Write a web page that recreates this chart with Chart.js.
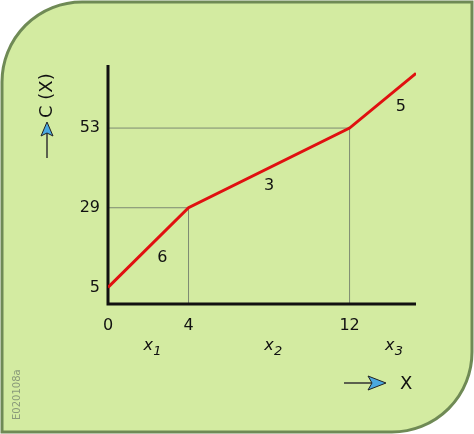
<!DOCTYPE html>
<html><head><meta charset="utf-8">
<script src="https://cdn.jsdelivr.net/npm/chart.js@4"></script>
<style>html,body{margin:0;padding:0;background:#fff}#w{width:474px;height:434px}</style>
</head><body><div id="w"><canvas id="c"></canvas></div>
<script>
const xValues = [0, 4, 12, 15.3];
const yValues = [5, 29, 53, 69.5];
const xTickLabels = ['0', '4', '12'];
const yTickLabels = ['5', '29', '53'];
const slopeLabels = ['6', '3', '5'];
const intervalLabels = ['1', '2', '3'];

const bg = {
  id: 'bg',
  beforeDraw(ch) {
    const c = ch.ctx;
    c.save();
    c.fillStyle = '#d3eba1';
    c.strokeStyle = '#6f8a55';
    c.lineWidth = 3;
    const x0 = 2, y0 = 2, x1 = 472, y1 = 432, R = 80;
    c.beginPath();
    c.moveTo(x0 + R, y0);
    c.lineTo(x1, y0);
    c.lineTo(x1, y1 - R);
    c.arcTo(x1, y1, x1 - R, y1, R);
    c.lineTo(x0, y1);
    c.lineTo(x0, y0 + R);
    c.arcTo(x0, y0, x0 + R, y0, R);
    c.closePath();
    c.fill(); c.stroke();
    c.restore();
  },
  afterDatasetsDraw(ch) {},
  beforeDatasetsDraw(ch) {
    const c = ch.ctx, xs = ch.scales.x, ys = ch.scales.y, a = ch.chartArea;
    c.save();
    // guides
    c.strokeStyle = '#7d8a72'; c.lineWidth = 1;
    [1, 2].forEach(i => {
      const px = xs.getPixelForValue(xValues[i]), py = ys.getPixelForValue(yValues[i]);
      c.beginPath(); c.moveTo(a.left, py); c.lineTo(px, py); c.lineTo(px, a.bottom); c.stroke();
    });
    // axes
    c.strokeStyle = '#111'; c.lineWidth = 3;
    c.beginPath(); c.moveTo(a.left, a.top); c.lineTo(a.left, a.bottom); c.lineTo(a.right, a.bottom); c.stroke();
    // labels
    c.fillStyle = '#111';
    c.font = '16px "DejaVu Sans"';
    c.textAlign = 'center'; c.textBaseline = 'middle';
    xTickLabels.forEach((t, i) => c.fillText(t, xs.getPixelForValue(xValues[i]), a.bottom + 22));
    c.textAlign = 'right';
    yTickLabels.forEach((t, i) => c.fillText(t, a.left - 8, ys.getPixelForValue(yValues[i])));
    // slope labels
    c.textAlign = 'center';
    const sp = [[143, 250], [253, 191], [384, 126]];
    slopeLabels.forEach((t, i) => {
      const mx = (xValues[i] + xValues[i + 1]) / 2, my = (yValues[i] + yValues[i + 1]) / 2;
      const off = i === 1 ? [0, 18] : (i === 0 ? [14, 10] : [18, 6]);
      c.fillText(t, xs.getPixelForValue(mx) + off[0], ys.getPixelForValue(my) + off[1]);
    });
    // interval labels x_i
    intervalLabels.forEach((t, i) => {
      const mx = (xValues[i] + Math.min(xValues[i + 1], 15)) / 2;
      const px = xs.getPixelForValue(mx) + (i === 2 ? 10 : 0);
      c.font = 'italic 16px "DejaVu Sans"';
      c.fillText('x', px, a.bottom + 42);
      c.font = 'italic 13px "DejaVu Sans"';
      c.fillText(t, px + 9, a.bottom + 48);
    });
    // X arrow
    c.font = '18px "DejaVu Sans"';
    c.strokeStyle = '#333'; c.lineWidth = 1.5;
    c.beginPath(); c.moveTo(344, 383); c.lineTo(372, 383); c.stroke();
    c.fillStyle = '#4aa8e0';
    c.beginPath(); c.moveTo(368, 376); c.lineTo(386, 383); c.lineTo(368, 390); c.lineTo(372, 383); c.closePath(); c.fill();
    c.strokeStyle = '#222'; c.lineWidth = 1; c.stroke();
    c.fillStyle = '#111'; c.textAlign = 'left';
    c.fillText('X', 400, 384);
    // C(X) vertical
    c.save(); c.translate(47, 110); c.rotate(-Math.PI / 2);
    c.textAlign = 'left';
    c.fillText('C (X)', -8, 0);
    c.strokeStyle = '#333'; c.lineWidth = 1.5;
    c.beginPath(); c.moveTo(-48, 0); c.lineTo(-22, 0); c.stroke();
    c.fillStyle = '#4aa8e0';
    c.beginPath(); c.moveTo(-26, -6); c.lineTo(-12, 0); c.lineTo(-26, 6); c.lineTo(-23, 0); c.closePath(); c.fill();
    c.strokeStyle = '#222'; c.lineWidth = 1; c.stroke();
    c.restore();
    // code
    c.save(); c.translate(17, 420); c.rotate(-Math.PI / 2);
    c.fillStyle = '#8a9a7a'; c.font = '10px "DejaVu Sans"'; c.textAlign = 'left';
    c.fillText('E020108a', 0, 0);
    c.restore();
    c.restore();
  }
};

new Chart(document.getElementById('c'), {
  type: 'scatter',
  data: { datasets: [{
    data: xValues.map((x, i) => ({ x, y: yValues[i] })),
    showLine: true, borderColor: '#e01010', borderWidth: 3,
    pointRadius: 0, fill: false, tension: 0
  }] },
  options: {
    responsive: true, maintainAspectRatio: false, animation: false,
    layout: { padding: { left: 108, right: 58, top: 65, bottom: 130 } },
    plugins: { legend: { display: false }, tooltip: { enabled: false } },
    scales: {
      x: { type: 'linear', min: 0, max: 15.3, display: false },
      y: { type: 'linear', min: 0, max: 72, display: false }
    }
  },
  plugins: [bg]
});
</script></body></html>
